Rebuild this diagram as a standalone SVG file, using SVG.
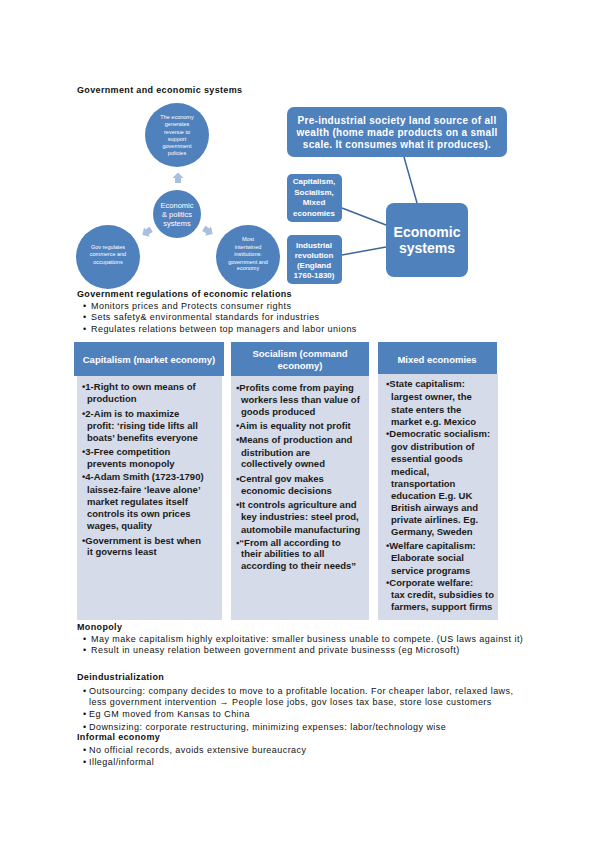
<svg xmlns="http://www.w3.org/2000/svg" width="595" height="842" viewBox="0 0 595 842">
<style>
.t{font-family:"Liberation Sans",Arial,sans-serif;font-size:9px;letter-spacing:0.45px;fill:#111}
.b{font-weight:bold;letter-spacing:0.35px}
.circ{fill:#4f81bd}
.ct{font-family:"Liberation Sans",Arial,sans-serif;fill:#fff;text-anchor:middle}
.box{fill:#4f81bd}
.bt{font-family:"Liberation Sans",Arial,sans-serif;fill:#fff;font-weight:bold;text-anchor:middle}
.hd{fill:#4f81bd}
.bd{fill:#d5dbe8}
.col{font-family:"Liberation Sans",Arial,sans-serif;font-size:9.5px;font-weight:bold;fill:#1a1a1a}
.conn{stroke:#3f6698;stroke-width:1.5;fill:none}
.arr{fill:#a9bfdd}
</style>
<defs>
<polygon id="arrow" points="-5,-3 0,-3 0,-5.5 5.5,0 0,5.5 0,3 -5,3"/>
</defs>
<rect width="595" height="842" fill="#fff"/>

<text class="t b" x="77" y="93">Government and economic systems</text>

<g id="cycle-arrows">
<use href="#arrow" class="arr" transform="translate(178,178) rotate(-90)"/>
<use href="#arrow" class="arr" transform="translate(147,232) rotate(148)"/>
<use href="#arrow" class="arr" transform="translate(208,231) rotate(32)"/>
</g>

<g id="circle-top">
<circle class="circ" cx="177" cy="135" r="32"/>
<text class="ct" font-size="5.5"><tspan x="177" y="119">The economy</tspan><tspan x="177" y="126">generates</tspan><tspan x="177" y="134">revenue to</tspan><tspan x="177" y="141">support</tspan><tspan x="177" y="148">government</tspan><tspan x="177" y="155">policies</tspan></text>
</g>
<g id="circle-center">
<circle class="circ" cx="177" cy="214" r="24"/>
<text class="ct" font-size="7.5"><tspan x="177" y="208">Economic</tspan><tspan x="177" y="217">&amp; politics</tspan><tspan x="177" y="226">systems</tspan></text>
</g>
<g id="circle-left">
<circle class="circ" cx="108" cy="257" r="32"/>
<text class="ct" font-size="5.5"><tspan x="108" y="249">Gov regulates</tspan><tspan x="108" y="256">commerce and</tspan><tspan x="108" y="264">occupations</tspan></text>
</g>
<g id="circle-right">
<circle class="circ" cx="248" cy="257" r="32"/>
<text class="ct" font-size="5.5"><tspan x="248" y="241">Most</tspan><tspan x="248" y="249">intertwined</tspan><tspan x="248" y="256">institutions:</tspan><tspan x="248" y="264">government and</tspan><tspan x="248" y="270">economy</tspan></text>
</g>

<g id="connectors">
<line class="conn" x1="404" y1="157" x2="417" y2="203"/>
<line class="conn" x1="342" y1="208" x2="386" y2="225"/>
<line class="conn" x1="342" y1="255" x2="386" y2="247"/>
</g>

<g id="box-preindustrial">
<rect class="box" x="287" y="107" width="220" height="50" rx="7"/>
<text class="bt" font-size="10" letter-spacing="0.3"><tspan x="397" y="124">Pre-industrial society land source of all</tspan><tspan x="397" y="136">wealth (home made products on a small</tspan><tspan x="397" y="148">scale.  It consumes what it produces).</tspan></text>
</g>
<g id="box-capitalism">
<rect class="box" x="287" y="174" width="55" height="48" rx="5"/>
<text class="bt" font-size="8"><tspan x="314" y="184">Capitalism,</tspan><tspan x="314" y="195">Socialism,</tspan><tspan x="314" y="205">Mixed</tspan><tspan x="314" y="216">economies</tspan></text>
</g>
<g id="box-industrial">
<rect class="box" x="287" y="235" width="55" height="49" rx="5"/>
<text class="bt" font-size="8"><tspan x="314" y="248">Industrial</tspan><tspan x="314" y="258">revolution</tspan><tspan x="314" y="268">(England</tspan><tspan x="314" y="278">1760-1830)</tspan></text>
</g>
<g id="box-economic">
<rect class="box" x="386" y="203" width="82" height="74" rx="8"/>
<text class="bt" font-size="14"><tspan x="427" y="237">Economic</tspan><tspan x="427" y="253">systems</tspan></text>
</g>

<g id="regulations">
<text class="t b" x="77" y="297">Government regulations of economic relations</text>
<text class="t" x="83" y="309">•</text><text class="t" x="91" y="309">Monitors prices and Protects consumer rights</text>
<text class="t" x="83" y="320">•</text><text class="t" x="91" y="320">Sets safety&amp; environmental standards for industries</text>
<text class="t" x="83" y="332">•</text><text class="t" x="91" y="332">Regulates relations between top managers and labor unions</text>
</g>

<g id="col-capitalism">
<rect class="bd" x="77" y="376" width="145" height="244"/>
<rect class="hd" x="74" y="342" width="150" height="34"/>
<text class="bt" font-size="9.5" x="149" y="363">Capitalism (market economy)</text>
<text class="col"><tspan x="82" y="390">•1-Right to own means of</tspan><tspan x="87" y="402">production</tspan><tspan x="82" y="417">•2-Aim is to maximize</tspan><tspan x="87" y="429">profit: ‘rising tide lifts all</tspan><tspan x="87" y="441">boats’ benefits everyone</tspan><tspan x="82" y="455">•3-Free competition</tspan><tspan x="87" y="467">prevents monopoly</tspan><tspan x="82" y="480">•4-Adam Smith (1723-1790)</tspan><tspan x="87" y="493">laissez-faire ‘leave alone’</tspan><tspan x="87" y="505">market regulates itself</tspan><tspan x="87" y="517">controls its own prices</tspan><tspan x="87" y="529">wages, quality</tspan><tspan x="82" y="544">•Government is best when</tspan><tspan x="87" y="555">it governs least</tspan></text>
</g>

<g id="col-socialism">
<rect class="bd" x="231" y="376" width="138" height="244"/>
<rect class="hd" x="231" y="342" width="138" height="34"/>
<text class="bt" font-size="9.5"><tspan x="300" y="357">Socialism (command</tspan><tspan x="300" y="369">economy)</tspan></text>
<text class="col"><tspan x="236" y="391">▪Profits come from paying</tspan><tspan x="241" y="403">workers less than value of</tspan><tspan x="241" y="415">goods produced</tspan><tspan x="236" y="429">•Aim is equality not profit</tspan><tspan x="236" y="443">•Means of production and</tspan><tspan x="241" y="456">distribution are</tspan><tspan x="241" y="467">collectively owned</tspan><tspan x="236" y="482">▪Central gov makes</tspan><tspan x="241" y="494">economic decisions</tspan><tspan x="236" y="508">•It controls agriculture and</tspan><tspan x="241" y="520">key industries: steel prod,</tspan><tspan x="241" y="533">automobile manufacturing</tspan><tspan x="236" y="546">▪“From all according to</tspan><tspan x="241" y="557">their abilities to all</tspan><tspan x="241" y="569">according to their needs”</tspan></text>
</g>

<g id="col-mixed">
<rect class="bd" x="378" y="374" width="120" height="246"/>
<rect class="hd" x="378" y="342" width="119" height="32"/>
<text class="bt" font-size="9.5" x="437" y="363">Mixed economies</text>
<text class="col" font-size="9.2"><tspan x="386" y="387">▪State capitalism:</tspan><tspan x="391" y="400">largest owner, the</tspan><tspan x="391" y="413">state enters the</tspan><tspan x="391" y="425">market e.g. Mexico</tspan><tspan x="386" y="437">•Democratic socialism:</tspan><tspan x="391" y="450">gov distribution of</tspan><tspan x="391" y="462">essential goods</tspan><tspan x="391" y="475">medical,</tspan><tspan x="391" y="487">transportation</tspan><tspan x="391" y="499">education E.g. UK</tspan><tspan x="391" y="511">British airways and</tspan><tspan x="391" y="523">private airlines. Eg.</tspan><tspan x="391" y="535">Germany, Sweden</tspan><tspan x="386" y="549">•Welfare capitalism:</tspan><tspan x="391" y="561">Elaborate social</tspan><tspan x="391" y="574">service programs</tspan><tspan x="386" y="586">•Corporate welfare:</tspan><tspan x="391" y="598">tax credit, subsidies to</tspan><tspan x="391" y="610">farmers, support firms</tspan></text>
</g>

<g id="monopoly">
<text class="t b" x="77" y="630">Monopoly</text>
<text class="t" x="83" y="642">•</text><text class="t" x="91" y="642">May make capitalism highly exploitative: smaller business unable to compete. (US laws against it)</text>
<text class="t" x="83" y="653">•</text><text class="t" x="91" y="653">Result in uneasy relation between government and private businesss (eg Microsoft)</text>
</g>

<g id="deindustrialization">
<text class="t b" x="77" y="680">Deindustrialization</text>
<text class="t" x="83" y="694">•</text><text class="t" x="89" y="694">Outsourcing: company decides to move to a profitable location. For cheaper labor, relaxed laws,</text>
<text class="t" x="89" y="705">less government intervention → People lose jobs, gov loses tax base, store lose customers</text>
<text class="t" x="83" y="717">•</text><text class="t" x="89" y="717">Eg GM moved from Kansas to China</text>
<text class="t" x="83" y="730">•</text><text class="t" x="89" y="730">Downsizing: corporate restructuring, minimizing expenses: labor/technology wise</text>
<text class="t b" x="77" y="740">Informal economy</text>
<text class="t" x="83" y="753">•</text><text class="t" x="89" y="753">No official records, avoids extensive bureaucracy</text>
<text class="t" x="83" y="765">•</text><text class="t" x="89" y="765">Illegal/informal</text>
</g>
</svg>
